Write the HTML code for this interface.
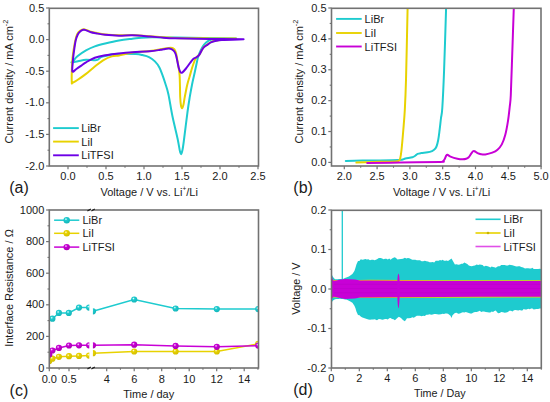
<!DOCTYPE html><html><head><meta charset="utf-8"><style>html,body{margin:0;padding:0;background:#fff;overflow:hidden;}svg{display:block;}text{font-family:"Liberation Sans", sans-serif;fill:#1a1a1a;}</style></head><body>
<svg width="550" height="402" viewBox="0 0 550 402">
<rect width="550" height="402" fill="#fff"/>
<defs>
<radialGradient id="gc" cx="0.38" cy="0.35" r="0.7"><stop offset="0" stop-color="#eaffff"/><stop offset="0.3" stop-color="#1ecbcf"/><stop offset="1" stop-color="#14b4b8"/></radialGradient>
<radialGradient id="gy" cx="0.38" cy="0.35" r="0.7"><stop offset="0" stop-color="#fffbe0"/><stop offset="0.3" stop-color="#e8d200"/><stop offset="1" stop-color="#d0bc00"/></radialGradient>
<radialGradient id="gm" cx="0.38" cy="0.35" r="0.7"><stop offset="0" stop-color="#ffe8ff"/><stop offset="0.3" stop-color="#c800d6"/><stop offset="1" stop-color="#a800b0"/></radialGradient>
<clipPath id="ca"><rect x="49.3" y="8.3" width="209.2" height="157.7"/></clipPath>
<clipPath id="cb"><rect x="331.5" y="8.3" width="209.5" height="157.7"/></clipPath>
<clipPath id="cc1"><rect x="49.3" y="210" width="40" height="158"/></clipPath>
<clipPath id="cc2"><rect x="92.9" y="210" width="165.6" height="158"/></clipPath>
<clipPath id="cd"><rect x="331.5" y="210.3" width="209.8" height="157.7"/></clipPath>
</defs>
<g clip-path="url(#ca)" fill="none" stroke-width="2" stroke-linejoin="round" stroke-linecap="round">
<path d="M236,38.6 C232.5,38.7 219.03,39.03 215,39.2 C210.97,39.37 212.98,39.27 211.8,39.6 C210.62,39.93 209.22,40.3 207.9,41.2 C206.58,42.1 205.07,43.55 203.9,45 C202.73,46.45 201.85,47.98 200.9,49.9 C199.95,51.82 198.93,54.15 198.2,56.5 C197.47,58.85 197.08,61.33 196.5,64 C195.92,66.67 195.42,69.22 194.7,72.5 C193.98,75.78 193.03,79.55 192.2,83.7 C191.37,87.85 190.48,92.68 189.7,97.4 C188.92,102.12 188.5,104.57 187.5,112 C186.5,119.43 184.55,135.62 183.7,142 C182.85,148.38 182.83,148.27 182.4,150.3 C181.97,152.33 181.53,154.15 181.1,154.2 C180.67,154.25 180.38,153.18 179.8,150.6 C179.22,148.02 178.83,144.47 177.6,138.7 C176.37,132.93 173.93,123.4 172.4,116 C170.87,108.6 169.57,99.67 168.4,94.3 C167.23,88.93 166.4,87.03 165.4,83.8 C164.4,80.57 163.4,77.63 162.4,74.9 C161.4,72.17 160.65,69.65 159.4,67.4 C158.15,65.15 156.63,63.12 154.9,61.4 C153.17,59.68 151.1,58.15 149,57.1 C146.9,56.05 144.5,55.6 142.3,55.1 C140.1,54.6 140.35,54.28 135.8,54.1 C131.25,53.92 119.52,53.8 115,54 C110.48,54.2 110.92,54.82 108.7,55.3 C106.48,55.78 103.57,56.15 101.7,56.9 C99.83,57.65 98.65,59.23 97.5,59.8 C96.35,60.37 96.72,60.32 94.8,60.3 C92.88,60.28 88.8,59.55 86,59.7 C83.2,59.85 80.37,60.75 78,61.2 C75.63,61.65 72.67,62.35 71.8,62.4 C70.93,62.45 71.87,62.52 72.8,61.5 C73.73,60.48 75.2,58.15 77.4,56.3 C79.6,54.45 83.1,52.05 86,50.4 C88.9,48.75 91.6,47.55 94.8,46.4 C98,45.25 101.17,44.48 105.2,43.5 C109.23,42.52 114.47,41.28 119,40.5 C123.53,39.72 127.85,39.32 132.4,38.8 C136.95,38.28 139.2,37.6 146.3,37.4 C153.4,37.2 160.05,37.4 175,37.6 C189.95,37.8 225.83,38.43 236,38.6" stroke="#1ecbcf"/>
<path d="M236,38.4 C233.63,38.63 225.07,39.43 221.8,39.8 C218.53,40.17 218.22,40.2 216.4,40.6 C214.58,41 212.4,41.53 210.9,42.2 C209.4,42.87 208.48,43.87 207.4,44.6 C206.32,45.33 205.27,45.78 204.4,46.6 C203.53,47.42 203,48.22 202.2,49.5 C201.4,50.78 200.63,52.92 199.6,54.3 C198.57,55.68 196.82,56.77 196,57.8 C195.18,58.83 195.33,58.88 194.7,60.5 C194.07,62.12 193.03,64.88 192.2,67.5 C191.37,70.12 190.53,73.3 189.7,76.2 C188.87,79.1 188.03,81.37 187.2,84.9 C186.37,88.43 185.32,94.13 184.7,97.4 C184.08,100.67 183.92,102.7 183.5,104.5 C183.08,106.3 182.63,108.12 182.2,108.2 C181.77,108.28 181.23,106.87 180.9,105 C180.57,103.13 180.42,101.97 180.2,97 C179.98,92.03 180,80.9 179.6,75.2 C179.2,69.5 178.4,66.5 177.8,62.8 C177.2,59.1 176.58,55.28 176,53 C175.42,50.72 175.15,49.98 174.3,49.1 C173.45,48.22 172.67,47.77 170.9,47.7 C169.13,47.63 167.22,48.15 163.7,48.7 C160.18,49.25 155.02,50.38 149.8,51 C144.58,51.62 136.47,51.9 132.4,52.4 C128.33,52.9 127.63,53.48 125.4,54 C123.17,54.52 121.27,55.1 119,55.5 C116.73,55.9 114.45,55.6 111.8,56.4 C109.15,57.2 105.93,58.62 103.1,60.3 C100.27,61.98 97.65,64.23 94.8,66.5 C91.95,68.77 88.9,71.65 86,73.9 C83.1,76.15 79.65,78.52 77.4,80 C75.15,81.48 73.43,82.37 72.5,82.8 C71.57,83.23 71.92,84.4 71.8,82.6 C71.68,80.8 71.68,76.1 71.8,72 C71.92,67.9 71.97,63 72.5,58 C73.03,53 74.22,45.97 75,42 C75.78,38.03 76.37,36.07 77.2,34.2 C78.03,32.33 78.9,31.63 80,30.8 C81.1,29.97 81.97,29.05 83.8,29.2 C85.63,29.35 88.97,31.1 91,31.7 C93.03,32.3 93.63,32.35 96,32.8 C98.37,33.25 101.37,33.98 105.2,34.4 C109.03,34.82 114.47,35.2 119,35.3 C123.53,35.4 127.27,34.85 132.4,35 C137.53,35.15 142.7,35.72 149.8,36.2 C156.9,36.68 164.97,37.53 175,37.9 C185.03,38.27 199.83,38.32 210,38.4 C220.17,38.48 231.67,38.4 236,38.4" stroke="#e8d200"/>
<path d="M243.6,39.3 C239.97,39.42 226.33,39.75 221.8,40 C217.27,40.25 218.22,40.4 216.4,40.8 C214.58,41.2 212.4,41.73 210.9,42.4 C209.4,43.07 208.48,44.07 207.4,44.8 C206.32,45.53 205.27,46.02 204.4,46.8 C203.53,47.58 203,48.25 202.2,49.5 C201.4,50.75 200.55,53 199.6,54.3 C198.65,55.6 197.52,56.57 196.5,57.3 C195.48,58.03 194.58,57.75 193.5,58.7 C192.42,59.65 191.25,61.37 190,63 C188.75,64.63 187.25,66.95 186,68.5 C184.75,70.05 183.42,71.67 182.5,72.3 C181.58,72.93 181.12,73.02 180.5,72.3 C179.88,71.58 179.33,69.88 178.8,68 C178.27,66.12 177.8,63.25 177.3,61 C176.8,58.75 176.43,56.25 175.8,54.5 C175.17,52.75 174.62,51.48 173.5,50.5 C172.38,49.52 170.73,48.82 169.1,48.6 C167.47,48.38 165.15,49 163.7,49.2 C162.25,49.4 162.72,49.45 160.4,49.8 C158.08,50.15 154.47,50.9 149.8,51.3 C145.13,51.7 137.53,51.85 132.4,52.2 C127.27,52.55 123.53,52.9 119,53.4 C114.47,53.9 109.23,54.47 105.2,55.2 C101.17,55.93 98,56.62 94.8,57.8 C91.6,58.98 88.32,60.95 86,62.3 C83.68,63.65 82.5,64.78 80.9,65.9 C79.3,67.02 77.82,68.07 76.4,69 C74.98,69.93 73,72.67 72.4,71.5 C71.8,70.33 72.62,64.78 72.8,62 C72.98,59.22 73.03,58.32 73.5,54.8 C73.97,51.28 74.88,44.28 75.6,40.9 C76.32,37.52 76.98,36.12 77.8,34.5 C78.62,32.88 79.43,31.98 80.5,31.2 C81.57,30.42 82.45,29.62 84.2,29.8 C85.95,29.98 89.03,31.72 91,32.3 C92.97,32.88 93.63,32.88 96,33.3 C98.37,33.72 101.37,34.4 105.2,34.8 C109.03,35.2 114.47,35.62 119,35.7 C123.53,35.78 127.27,35.17 132.4,35.3 C137.53,35.43 144.58,36.1 149.8,36.5 C155.02,36.9 159.5,37.4 163.7,37.7 C167.9,38 167.28,38.1 175,38.3 C182.72,38.5 198.57,38.73 210,38.9 C221.43,39.07 238,39.23 243.6,39.3" stroke="#6d00e6"/>
</g>
<rect x="49.3" y="8.3" width="209.2" height="157.7" fill="none" stroke="#727272" stroke-width="1.6"/>
<line x1="46.1" y1="8" x2="49.3" y2="8" stroke="#727272" stroke-width="1.2"/>
<line x1="46.1" y1="39.6" x2="49.3" y2="39.6" stroke="#727272" stroke-width="1.2"/>
<line x1="46.1" y1="71.2" x2="49.3" y2="71.2" stroke="#727272" stroke-width="1.2"/>
<line x1="46.1" y1="102.8" x2="49.3" y2="102.8" stroke="#727272" stroke-width="1.2"/>
<line x1="46.1" y1="134.4" x2="49.3" y2="134.4" stroke="#727272" stroke-width="1.2"/>
<line x1="46.1" y1="166" x2="49.3" y2="166" stroke="#727272" stroke-width="1.2"/>
<line x1="47.5" y1="23.8" x2="49.3" y2="23.8" stroke="#727272" stroke-width="1.1"/>
<line x1="47.5" y1="55.4" x2="49.3" y2="55.4" stroke="#727272" stroke-width="1.1"/>
<line x1="47.5" y1="87" x2="49.3" y2="87" stroke="#727272" stroke-width="1.1"/>
<line x1="47.5" y1="118.6" x2="49.3" y2="118.6" stroke="#727272" stroke-width="1.1"/>
<line x1="47.5" y1="150.2" x2="49.3" y2="150.2" stroke="#727272" stroke-width="1.1"/>
<text x="44.3" y="11.6" font-size="11" text-anchor="end" >0.5</text>
<text x="44.3" y="43.2" font-size="11" text-anchor="end" >0.0</text>
<text x="44.3" y="74.8" font-size="11" text-anchor="end" >-0.5</text>
<text x="44.3" y="106.4" font-size="11" text-anchor="end" >-1.0</text>
<text x="44.3" y="138" font-size="11" text-anchor="end" >-1.5</text>
<text x="44.3" y="169.6" font-size="11" text-anchor="end" >-2.0</text>
<line x1="68" y1="166" x2="68" y2="169.2" stroke="#727272" stroke-width="1.2"/>
<line x1="106" y1="166" x2="106" y2="169.2" stroke="#727272" stroke-width="1.2"/>
<line x1="144" y1="166" x2="144" y2="169.2" stroke="#727272" stroke-width="1.2"/>
<line x1="182" y1="166" x2="182" y2="169.2" stroke="#727272" stroke-width="1.2"/>
<line x1="220" y1="166" x2="220" y2="169.2" stroke="#727272" stroke-width="1.2"/>
<line x1="258" y1="166" x2="258" y2="169.2" stroke="#727272" stroke-width="1.2"/>
<line x1="87" y1="166" x2="87" y2="167.8" stroke="#727272" stroke-width="1.1"/>
<line x1="125" y1="166" x2="125" y2="167.8" stroke="#727272" stroke-width="1.1"/>
<line x1="163" y1="166" x2="163" y2="167.8" stroke="#727272" stroke-width="1.1"/>
<line x1="201" y1="166" x2="201" y2="167.8" stroke="#727272" stroke-width="1.1"/>
<line x1="239" y1="166" x2="239" y2="167.8" stroke="#727272" stroke-width="1.1"/>
<text x="68" y="180.2" font-size="11" text-anchor="middle" >0.0</text>
<text x="106" y="180.2" font-size="11" text-anchor="middle" >0.5</text>
<text x="144" y="180.2" font-size="11" text-anchor="middle" >1.0</text>
<text x="182" y="180.2" font-size="11" text-anchor="middle" >1.5</text>
<text x="220" y="180.2" font-size="11" text-anchor="middle" >2.0</text>
<text x="258" y="180.2" font-size="11" text-anchor="middle" >2.5</text>
<line x1="53.1" y1="128.1" x2="78.8" y2="128.1" stroke="#1ecbcf" stroke-width="1.9"/>
<text x="81.3" y="132.1" font-size="11" text-anchor="start" >LiBr</text>
<line x1="53.1" y1="141.6" x2="78.8" y2="141.6" stroke="#e8d200" stroke-width="1.9"/>
<text x="81.3" y="145.6" font-size="11" text-anchor="start" >LiI</text>
<line x1="53.1" y1="155.3" x2="78.8" y2="155.3" stroke="#6d00e6" stroke-width="1.9"/>
<text x="81.3" y="159.3" font-size="11" text-anchor="start" >LiTFSI</text>
<text transform="translate(13.2,143.5) rotate(-90)" font-size="11">Current density / mA cm<tspan font-size="7.2" dy="-5">-2</tspan></text>
<text x="100.5" y="195.5" font-size="11" text-anchor="start" >Voltage / V vs. Li<tspan font-size="6.5" dy="-5">+</tspan><tspan dy="5">/Li</tspan></text>
<text x="9.2" y="193.3" font-size="16" text-anchor="start" >(a)</text>
<g clip-path="url(#cb)" fill="none" stroke-width="2" stroke-linejoin="round" stroke-linecap="round">
<path d="M345.8,160.9 C349.83,160.83 361.2,160.63 370,160.5 C378.8,160.37 392.7,160.43 398.6,160.1 C404.5,159.77 403.1,158.98 405.4,158.5 C407.7,158.02 410.72,157.7 412.4,157.2 C414.08,156.7 414.63,156.05 415.5,155.5 C416.37,154.95 416.67,154.3 417.6,153.9 C418.53,153.5 419.07,153.43 421.1,153.1 C423.13,152.77 427.63,152.45 429.8,151.9 C431.97,151.35 432.98,150.7 434.1,149.8 C435.22,148.9 435.82,148.13 436.5,146.5 C437.18,144.87 437.68,142.75 438.2,140 C438.72,137.25 439.13,133.67 439.6,130 C440.07,126.33 440.55,121.67 441,118 C441.45,114.33 441.78,116 442.3,108 C442.82,100 443.47,86.67 444.1,70 C444.73,53.33 445.77,18.33 446.1,8" stroke="#1ecbcf"/>
<path d="M356.4,162.6 C358,162.55 362.07,162.43 366,162.3 C369.93,162.17 375,161.95 380,161.8 C385,161.65 392.9,161.55 396,161.4 C399.1,161.25 397.9,161.38 398.6,160.9 C399.3,160.42 399.72,160.32 400.2,158.5 C400.68,156.68 400.98,154.75 401.5,150 C402.02,145.25 402.75,136.67 403.3,130 C403.85,123.33 404.35,118.33 404.8,110 C405.25,101.67 405.53,97 406,80 C406.47,63 407.33,20 407.6,8" stroke="#e8d200"/>
<path d="M367.2,163 C372.67,162.93 387.87,162.78 400,162.6 C412.13,162.42 432.87,162.12 440,161.9 C447.13,161.68 442.03,161.75 442.8,161.3 C443.57,160.85 444.03,160.15 444.6,159.2 C445.17,158.25 445.72,156.33 446.2,155.6 C446.68,154.87 446.78,154.63 447.5,154.8 C448.22,154.97 448.85,155.95 450.5,156.6 C452.15,157.25 455.4,158.25 457.4,158.7 C459.4,159.15 461.03,159.28 462.5,159.3 C463.97,159.32 465.17,159.13 466.2,158.8 C467.23,158.47 467.87,158.17 468.7,157.3 C469.53,156.43 470.48,154.6 471.2,153.6 C471.92,152.6 472.43,151.7 473,151.3 C473.57,150.9 473.85,150.9 474.6,151.2 C475.35,151.5 476.43,152.6 477.5,153.1 C478.57,153.6 479.7,153.98 481,154.2 C482.3,154.42 483.42,154.67 485.3,154.4 C487.18,154.13 490.27,153.38 492.3,152.6 C494.33,151.82 495.92,151.07 497.5,149.7 C499.08,148.33 500.5,146.88 501.8,144.4 C503.1,141.92 504.27,138.72 505.3,134.8 C506.33,130.88 507.27,125.53 508,120.9 C508.73,116.27 509.23,111.32 509.7,107 C510.17,102.68 510.38,103.67 510.8,95 C511.22,86.33 511.7,69.5 512.2,55 C512.7,40.5 513.53,15.83 513.8,8" stroke="#c800d6"/>
</g>
<rect x="331.5" y="8.3" width="209.5" height="157.7" fill="none" stroke="#727272" stroke-width="1.6"/>
<line x1="328.3" y1="8" x2="331.5" y2="8" stroke="#727272" stroke-width="1.2"/>
<line x1="328.3" y1="38.88" x2="331.5" y2="38.88" stroke="#727272" stroke-width="1.2"/>
<line x1="328.3" y1="69.76" x2="331.5" y2="69.76" stroke="#727272" stroke-width="1.2"/>
<line x1="328.3" y1="100.64" x2="331.5" y2="100.64" stroke="#727272" stroke-width="1.2"/>
<line x1="328.3" y1="131.52" x2="331.5" y2="131.52" stroke="#727272" stroke-width="1.2"/>
<line x1="328.3" y1="162.4" x2="331.5" y2="162.4" stroke="#727272" stroke-width="1.2"/>
<line x1="329.7" y1="23.44" x2="331.5" y2="23.44" stroke="#727272" stroke-width="1.1"/>
<line x1="329.7" y1="54.32" x2="331.5" y2="54.32" stroke="#727272" stroke-width="1.1"/>
<line x1="329.7" y1="85.2" x2="331.5" y2="85.2" stroke="#727272" stroke-width="1.1"/>
<line x1="329.7" y1="116.08" x2="331.5" y2="116.08" stroke="#727272" stroke-width="1.1"/>
<line x1="329.7" y1="146.96" x2="331.5" y2="146.96" stroke="#727272" stroke-width="1.1"/>
<text x="326.5" y="11.6" font-size="11" text-anchor="end" >0.5</text>
<text x="326.5" y="42.48" font-size="11" text-anchor="end" >0.4</text>
<text x="326.5" y="73.36" font-size="11" text-anchor="end" >0.3</text>
<text x="326.5" y="104.24" font-size="11" text-anchor="end" >0.2</text>
<text x="326.5" y="135.12" font-size="11" text-anchor="end" >0.1</text>
<text x="326.5" y="166" font-size="11" text-anchor="end" >0.0</text>
<line x1="344.3" y1="166" x2="344.3" y2="169.2" stroke="#727272" stroke-width="1.2"/>
<line x1="377.1" y1="166" x2="377.1" y2="169.2" stroke="#727272" stroke-width="1.2"/>
<line x1="409.9" y1="166" x2="409.9" y2="169.2" stroke="#727272" stroke-width="1.2"/>
<line x1="442.7" y1="166" x2="442.7" y2="169.2" stroke="#727272" stroke-width="1.2"/>
<line x1="475.5" y1="166" x2="475.5" y2="169.2" stroke="#727272" stroke-width="1.2"/>
<line x1="508.3" y1="166" x2="508.3" y2="169.2" stroke="#727272" stroke-width="1.2"/>
<line x1="541.1" y1="166" x2="541.1" y2="169.2" stroke="#727272" stroke-width="1.2"/>
<line x1="360.7" y1="166" x2="360.7" y2="167.8" stroke="#727272" stroke-width="1.1"/>
<line x1="393.5" y1="166" x2="393.5" y2="167.8" stroke="#727272" stroke-width="1.1"/>
<line x1="426.3" y1="166" x2="426.3" y2="167.8" stroke="#727272" stroke-width="1.1"/>
<line x1="459.1" y1="166" x2="459.1" y2="167.8" stroke="#727272" stroke-width="1.1"/>
<line x1="491.9" y1="166" x2="491.9" y2="167.8" stroke="#727272" stroke-width="1.1"/>
<line x1="524.7" y1="166" x2="524.7" y2="167.8" stroke="#727272" stroke-width="1.1"/>
<text x="344.3" y="180.2" font-size="11" text-anchor="middle" >2.0</text>
<text x="377.1" y="180.2" font-size="11" text-anchor="middle" >2.5</text>
<text x="409.9" y="180.2" font-size="11" text-anchor="middle" >3.0</text>
<text x="442.7" y="180.2" font-size="11" text-anchor="middle" >3.5</text>
<text x="475.5" y="180.2" font-size="11" text-anchor="middle" >4.0</text>
<text x="508.3" y="180.2" font-size="11" text-anchor="middle" >4.5</text>
<text x="541.1" y="180.2" font-size="11" text-anchor="middle" >5.0</text>
<line x1="336.1" y1="18.9" x2="361.7" y2="18.9" stroke="#1ecbcf" stroke-width="1.9"/>
<text x="364.6" y="22.9" font-size="11" text-anchor="start" >LiBr</text>
<line x1="336.1" y1="33" x2="361.7" y2="33" stroke="#e8d200" stroke-width="1.9"/>
<text x="364.6" y="37" font-size="11" text-anchor="start" >LiI</text>
<line x1="336.1" y1="46.5" x2="361.7" y2="46.5" stroke="#c800d6" stroke-width="1.9"/>
<text x="364.6" y="50.5" font-size="11" text-anchor="start" >LiTFSI</text>
<text transform="translate(302.5,143.5) rotate(-90)" font-size="11">Current density / mA cm<tspan font-size="7.2" dy="-5">-2</tspan></text>
<text x="392.9" y="195.5" font-size="11" text-anchor="start" >Voltage / V vs. Li<tspan font-size="6.5" dy="-5">+</tspan><tspan dy="5">/Li</tspan></text>
<text x="293.3" y="193.3" font-size="16" text-anchor="start" >(b)</text>
<g clip-path="url(#cc1)">
<path d="M52.4,318.7 L58.9,312.9 L68.8,312.9 L79,307.6 L89.1,307.6" fill="none" stroke="#1ecbcf" stroke-width="1.5"/>
<circle cx="52.4" cy="318.7" r="3.1" fill="url(#gc)"/>
<circle cx="58.9" cy="312.9" r="3.1" fill="url(#gc)"/>
<circle cx="68.8" cy="312.9" r="3.1" fill="url(#gc)"/>
<circle cx="79" cy="307.6" r="3.1" fill="url(#gc)"/>
<circle cx="89.1" cy="307.6" r="3.1" fill="url(#gc)"/>
</g>
<g clip-path="url(#cc2)">
<path d="M92.95,311.3 L134.2,299.5 L175.6,308.5 L216.8,309.1 L258.2,309.1" fill="none" stroke="#1ecbcf" stroke-width="1.5"/>
<circle cx="92.95" cy="311.3" r="3.1" fill="url(#gc)"/>
<circle cx="134.2" cy="299.5" r="3.1" fill="url(#gc)"/>
<circle cx="175.6" cy="308.5" r="3.1" fill="url(#gc)"/>
<circle cx="216.8" cy="309.1" r="3.1" fill="url(#gc)"/>
<circle cx="258.2" cy="309.1" r="3.1" fill="url(#gc)"/>
</g>
<g clip-path="url(#cc1)">
<path d="M49.3,361.1 L52.4,358.7 L58.9,356.8 L69,356.2 L79,355.9 L89.1,355.6" fill="none" stroke="#e8d200" stroke-width="1.5"/>
<circle cx="49.3" cy="361.1" r="3.1" fill="url(#gy)"/>
<circle cx="52.4" cy="358.7" r="3.1" fill="url(#gy)"/>
<circle cx="58.9" cy="356.8" r="3.1" fill="url(#gy)"/>
<circle cx="69" cy="356.2" r="3.1" fill="url(#gy)"/>
<circle cx="79" cy="355.9" r="3.1" fill="url(#gy)"/>
<circle cx="89.1" cy="355.6" r="3.1" fill="url(#gy)"/>
</g>
<g clip-path="url(#cc2)">
<path d="M92.95,353.2 L134.2,351.5 L175.6,351.5 L216.8,351.5 L258.2,343.8" fill="none" stroke="#e8d200" stroke-width="1.5"/>
<circle cx="92.95" cy="353.2" r="3.1" fill="url(#gy)"/>
<circle cx="134.2" cy="351.5" r="3.1" fill="url(#gy)"/>
<circle cx="175.6" cy="351.5" r="3.1" fill="url(#gy)"/>
<circle cx="216.8" cy="351.5" r="3.1" fill="url(#gy)"/>
<circle cx="258.2" cy="343.8" r="3.1" fill="url(#gy)"/>
</g>
<g clip-path="url(#cc1)">
<path d="M49.3,354.6 L52.4,350.5 L58.9,347.9 L69,345.5 L79,345.3 L89.1,345.3" fill="none" stroke="#c800d6" stroke-width="1.5"/>
<circle cx="49.3" cy="354.6" r="3.1" fill="url(#gm)"/>
<circle cx="52.4" cy="350.5" r="3.1" fill="url(#gm)"/>
<circle cx="58.9" cy="347.9" r="3.1" fill="url(#gm)"/>
<circle cx="69" cy="345.5" r="3.1" fill="url(#gm)"/>
<circle cx="79" cy="345.3" r="3.1" fill="url(#gm)"/>
<circle cx="89.1" cy="345.3" r="3.1" fill="url(#gm)"/>
</g>
<g clip-path="url(#cc2)">
<path d="M92.95,345.3 L134.2,344.7 L175.6,345.9 L216.8,346.8 L258.2,345.6" fill="none" stroke="#c800d6" stroke-width="1.5"/>
<circle cx="92.95" cy="345.3" r="3.1" fill="url(#gm)"/>
<circle cx="134.2" cy="344.7" r="3.1" fill="url(#gm)"/>
<circle cx="175.6" cy="345.9" r="3.1" fill="url(#gm)"/>
<circle cx="216.8" cy="346.8" r="3.1" fill="url(#gm)"/>
<circle cx="258.2" cy="345.6" r="3.1" fill="url(#gm)"/>
</g>
<rect x="49.3" y="210" width="209.2" height="158" fill="none" stroke="#727272" stroke-width="1.6"/>
<path d="M90.2,211.2 L91.8,208.8 L92.6,208.8 L91.0,211.2 Z" fill="#fff"/>
<line x1="87.4" y1="211" x2="90.8" y2="209" stroke="#1a1a1a" stroke-width="1.1"/>
<line x1="91.4" y1="211" x2="94.8" y2="209" stroke="#1a1a1a" stroke-width="1.1"/>
<path d="M90.2,369.2 L91.8,366.8 L92.6,366.8 L91.0,369.2 Z" fill="#fff"/>
<line x1="87.4" y1="369" x2="90.8" y2="367" stroke="#1a1a1a" stroke-width="1.1"/>
<line x1="91.4" y1="369" x2="94.8" y2="367" stroke="#1a1a1a" stroke-width="1.1"/>
<line x1="46.1" y1="210" x2="49.3" y2="210" stroke="#727272" stroke-width="1.2"/>
<line x1="46.1" y1="241.6" x2="49.3" y2="241.6" stroke="#727272" stroke-width="1.2"/>
<line x1="46.1" y1="273.2" x2="49.3" y2="273.2" stroke="#727272" stroke-width="1.2"/>
<line x1="46.1" y1="304.8" x2="49.3" y2="304.8" stroke="#727272" stroke-width="1.2"/>
<line x1="46.1" y1="336.4" x2="49.3" y2="336.4" stroke="#727272" stroke-width="1.2"/>
<line x1="46.1" y1="368" x2="49.3" y2="368" stroke="#727272" stroke-width="1.2"/>
<line x1="47.5" y1="225.8" x2="49.3" y2="225.8" stroke="#727272" stroke-width="1.1"/>
<line x1="47.5" y1="257.4" x2="49.3" y2="257.4" stroke="#727272" stroke-width="1.1"/>
<line x1="47.5" y1="289" x2="49.3" y2="289" stroke="#727272" stroke-width="1.1"/>
<line x1="47.5" y1="320.6" x2="49.3" y2="320.6" stroke="#727272" stroke-width="1.1"/>
<line x1="47.5" y1="352.2" x2="49.3" y2="352.2" stroke="#727272" stroke-width="1.1"/>
<text x="44.3" y="213.6" font-size="11" text-anchor="end" >1000</text>
<text x="44.3" y="245.2" font-size="11" text-anchor="end" >800</text>
<text x="44.3" y="276.8" font-size="11" text-anchor="end" >600</text>
<text x="44.3" y="308.4" font-size="11" text-anchor="end" >400</text>
<text x="44.3" y="340" font-size="11" text-anchor="end" >200</text>
<text x="44.3" y="371.6" font-size="11" text-anchor="end" >0</text>
<line x1="49.3" y1="368" x2="49.3" y2="371.2" stroke="#727272" stroke-width="1.2"/>
<line x1="69" y1="368" x2="69" y2="371.2" stroke="#727272" stroke-width="1.2"/>
<line x1="59.15" y1="368" x2="59.15" y2="369.8" stroke="#727272" stroke-width="1.1"/>
<line x1="78.85" y1="368" x2="78.85" y2="369.8" stroke="#727272" stroke-width="1.1"/>
<text x="49.3" y="382.5" font-size="11" text-anchor="middle" >0.0</text>
<text x="69" y="382.5" font-size="11" text-anchor="middle" >0.5</text>
<line x1="106.7" y1="368" x2="106.7" y2="371.2" stroke="#727272" stroke-width="1.2"/>
<line x1="134.2" y1="368" x2="134.2" y2="371.2" stroke="#727272" stroke-width="1.2"/>
<line x1="161.7" y1="368" x2="161.7" y2="371.2" stroke="#727272" stroke-width="1.2"/>
<line x1="189.2" y1="368" x2="189.2" y2="371.2" stroke="#727272" stroke-width="1.2"/>
<line x1="216.7" y1="368" x2="216.7" y2="371.2" stroke="#727272" stroke-width="1.2"/>
<line x1="244.2" y1="368" x2="244.2" y2="371.2" stroke="#727272" stroke-width="1.2"/>
<line x1="120.45" y1="368" x2="120.45" y2="369.8" stroke="#727272" stroke-width="1.1"/>
<line x1="147.95" y1="368" x2="147.95" y2="369.8" stroke="#727272" stroke-width="1.1"/>
<line x1="175.45" y1="368" x2="175.45" y2="369.8" stroke="#727272" stroke-width="1.1"/>
<line x1="202.95" y1="368" x2="202.95" y2="369.8" stroke="#727272" stroke-width="1.1"/>
<line x1="230.45" y1="368" x2="230.45" y2="369.8" stroke="#727272" stroke-width="1.1"/>
<line x1="257.95" y1="368" x2="257.95" y2="369.8" stroke="#727272" stroke-width="1.1"/>
<text x="106.7" y="382.5" font-size="11" text-anchor="middle" >4</text>
<text x="134.2" y="382.5" font-size="11" text-anchor="middle" >6</text>
<text x="161.7" y="382.5" font-size="11" text-anchor="middle" >8</text>
<text x="189.2" y="382.5" font-size="11" text-anchor="middle" >10</text>
<text x="216.7" y="382.5" font-size="11" text-anchor="middle" >12</text>
<text x="244.2" y="382.5" font-size="11" text-anchor="middle" >14</text>
<line x1="54.1" y1="220.2" x2="79.3" y2="220.2" stroke="#1ecbcf" stroke-width="1.5"/>
<circle cx="66.7" cy="220.2" r="3.2" fill="url(#gc)"/>
<text x="82.5" y="224.2" font-size="11" text-anchor="start" >LiBr</text>
<line x1="54.1" y1="233.3" x2="79.3" y2="233.3" stroke="#e8d200" stroke-width="1.5"/>
<circle cx="66.7" cy="233.3" r="3.2" fill="url(#gy)"/>
<text x="82.5" y="237.3" font-size="11" text-anchor="start" >LiI</text>
<line x1="54.1" y1="247.1" x2="79.3" y2="247.1" stroke="#c800d6" stroke-width="1.5"/>
<circle cx="66.7" cy="247.1" r="3.2" fill="url(#gm)"/>
<text x="82.5" y="251.1" font-size="11" text-anchor="start" >LiTFSI</text>
<text transform="translate(13.2,346.8) rotate(-90)" font-size="11">Interface Resistance / &#937;</text>
<text x="123.3" y="398" font-size="11" text-anchor="start" >Time / day</text>
<text x="9.6" y="395.8" font-size="16" text-anchor="start" >(c)</text>
<g clip-path="url(#cd)">
<path d="M331.5,274 L333,277 L335,279.2 L336.33,279.17 L337.67,279.13 L339,279.1 L340.33,279.07 L341.67,279.03 L343,279 L344.9,278 L346.23,277.5 L347.57,277 L348.9,276.5 L350.65,275.25 L352.4,274 L354.4,271 L355.4,268 L356.5,264.25 L358,261.01 L359.4,260.91 L360.8,259.3 L362.3,259.85 L363.8,259.51 L365.3,258.98 L366.8,259.51 L368.4,259.25 L370,260.21 L371.57,259.7 L373.13,259.73 L374.7,260.19 L377,259.26 L378.85,258.02 L380.7,257.91 L382.13,258.58 L383.57,259.13 L385,258.71 L386.4,258.63 L387.8,259.62 L389.2,258.49 L390.6,259.8 L392.03,258.51 L393.47,257.8 L394.9,257.26 L396.23,258.2 L397.57,259.58 L398.9,259.35 L401,259.11 L402.95,258.69 L404.9,257.82 L406.38,258.39 L407.85,258.04 L409.32,258.36 L410.8,258.89 L412.3,259.78 L413.8,259.65 L415.3,259.71 L416.8,260.32 L418.4,260.33 L420,260.32 L421.6,261.15 L423.2,261.15 L424.8,260.64 L426.4,261.35 L428,261.54 L429.57,262.29 L431.13,262.35 L432.7,262 L434.2,262.52 L435.7,260.87 L437.2,260.84 L438.7,260.86 L440.02,260.01 L441.35,260.48 L442.68,259.85 L444,260.74 L445.33,260.84 L446.67,260.54 L448,260.93 L450.5,259.24 L451.5,258.57 L452.5,260.13 L454.9,264.61 L456.57,264.27 L458.23,264.64 L459.9,264.62 L461.38,263.69 L462.85,263.68 L464.32,262.56 L465.8,263.18 L467.3,264.01 L468.8,265.39 L470.3,266.05 L471.8,266.2 L473.4,265.74 L475,265.54 L476.6,264.5 L478.2,264.98 L479.8,264.44 L481.2,264.73 L482.6,265.02 L484,266.38 L485.85,265.83 L487.7,266.35 L489.03,266.65 L490.37,267.42 L491.7,266.41 L493.03,267.03 L494.37,267.27 L495.7,267.84 L498,266.35 L499.67,266.18 L501.33,265.12 L503,265.08 L504.63,264.9 L506.27,265.54 L507.9,265.54 L509.42,264.69 L510.95,265 L512.48,265.35 L514,265.63 L515.45,266.2 L516.9,266.57 L518.35,266.34 L519.8,266.21 L521.1,267.01 L522.4,267.17 L523.7,267.67 L525,268.43 L526.6,268.23 L528.2,268.16 L529.8,268.46 L531.1,268.6 L532.4,267.78 L533.7,269.01 L535,268.89 L536.58,269.12 L538.15,269.12 L539.72,268.65 L541.3,268.9 L541.3,308.6 L539.72,308.55 L538.15,309.11 L536.58,309.11 L535,309.25 L533.7,309.38 L532.4,308.59 L531.1,308.6 L529.8,309.29 L528.2,308.73 L526.6,309.43 L525,309.39 L523.7,309.04 L522.4,310.48 L521.1,310.42 L519.8,309.93 L518.35,310.41 L516.9,310.18 L515.45,309.93 L514,310.34 L512.48,311.5 L510.95,310.77 L509.42,310.83 L507.9,312.09 L506.27,312.42 L504.63,312.66 L503,312.19 L501.33,312.11 L499.67,313.1 L498,313.35 L495.7,310.54 L494.37,311.01 L493.03,311.9 L491.7,311.5 L490.37,312.58 L489.03,312.4 L487.7,312.25 L485.85,311.9 L484,311.43 L482.6,311.51 L481.2,312.05 L479.8,310.78 L478.2,311.42 L476.6,312.1 L475,312.02 L473.4,312.49 L471.8,313.43 L470.3,313.51 L468.8,313.02 L467.3,312.48 L465.8,311.99 L464.32,312.39 L462.85,312.16 L461.38,312.72 L459.9,313.39 L458.23,313.81 L456.57,312.83 L454.9,312.93 L452.5,315.34 L451.5,317.91 L450.5,315.66 L448,313.86 L446.67,313.54 L445.33,313.44 L444,313.98 L442.5,313.76 L441,314.15 L438.7,314.57 L437.2,314.31 L435.7,313.92 L434.2,313.96 L432.7,314.59 L431.13,314.64 L429.57,314.21 L428,314.75 L426.4,314.77 L424.8,315.97 L423.2,315.85 L421.6,316.17 L420,315.73 L418.4,315.74 L416.8,315.83 L415.3,316.74 L413.8,317.71 L412.3,317.26 L410.8,318.09 L408.9,318.26 L407,318.37 L404.9,321.27 L402.95,320.02 L401,318.04 L398.9,316.83 L397.57,317.75 L396.23,319.12 L394.9,320.18 L393.47,319.36 L392.03,319.11 L390.6,318.11 L389.2,318.34 L387.8,319.38 L386.4,319.07 L385,319.11 L383.57,319.45 L382.13,319.79 L380.7,319.34 L378.85,319.03 L377,320.26 L374.7,319.19 L373.13,319.56 L371.57,319.49 L370,319.7 L368.4,319.53 L366.8,319.02 L365.35,318.62 L363.9,317.91 L362.45,317.46 L361,316.81 L359.5,315.16 L358,315.06 L356.5,311.64 L355.4,308 L354.4,305.8 L352.4,302.8 L349.9,301.3 L348.4,300.55 L346.9,299.8 L344.95,299.4 L343,299 L341.5,298.9 L340,298.8 L338.33,298.93 L336.67,299.07 L335,299.2 L333,300.5 L331.5,302.5 Z" fill="#1ecbcf"/>
<line x1="342.3" y1="205" x2="342.3" y2="282" stroke="#1ecbcf" stroke-width="1.3"/>
<path d="M331.5,279.8 L336,280 L345,280 L358,279.9 L370,279.8 L440,280.2 L541.3,280.3 L541.3,297.4 L440,297.7 L370,298.1 L358,297.8 L336,297.5 L331.5,297.4 Z" fill="#e8d200"/>
<path d="M331.5,272.5 L332.4,278.5 L333.5,280.8 L336,280.6 L341,279.6 L345,279 L355,279.5 L360,280.4 L370,280.5 L400,280.7 L440,281 L480,281.1 L541.3,281.1 L541.3,296.7 L480,296.8 L440,297 L400,297.3 L370,297.5 L360,297.4 L355,298.6 L345,299 L341,298.3 L336,297.1 L333.5,296.8 L332.4,298 L331.5,299.5 Z" fill="#c800d6"/>
<line x1="334" y1="284.3" x2="541.3" y2="284.3" stroke="#b000c0" stroke-width="0.8" opacity="0.45"/>
<line x1="334" y1="288.6" x2="541.3" y2="288.6" stroke="#b000c0" stroke-width="0.8" opacity="0.45"/>
<line x1="334" y1="292.8" x2="541.3" y2="292.8" stroke="#b000c0" stroke-width="0.8" opacity="0.45"/>
<path d="M398.5,273.6 C399.5,275 399.5,279 399.6,281 L399.6,297 C399.5,300 399.3,306 398.5,308.6 C397.7,306 397.5,300 397.4,297 L397.4,281 C397.5,279 397.5,275 398.5,273.6 Z" fill="#c800d6"/>
</g>
<rect x="331.5" y="210.3" width="209.8" height="157.7" fill="none" stroke="#727272" stroke-width="1.6"/>
<line x1="328.3" y1="210" x2="331.5" y2="210" stroke="#727272" stroke-width="1.2"/>
<line x1="328.3" y1="249.5" x2="331.5" y2="249.5" stroke="#727272" stroke-width="1.2"/>
<line x1="328.3" y1="289" x2="331.5" y2="289" stroke="#727272" stroke-width="1.2"/>
<line x1="328.3" y1="328.5" x2="331.5" y2="328.5" stroke="#727272" stroke-width="1.2"/>
<line x1="328.3" y1="368" x2="331.5" y2="368" stroke="#727272" stroke-width="1.2"/>
<line x1="329.7" y1="229.75" x2="331.5" y2="229.75" stroke="#727272" stroke-width="1.1"/>
<line x1="329.7" y1="269.25" x2="331.5" y2="269.25" stroke="#727272" stroke-width="1.1"/>
<line x1="329.7" y1="308.75" x2="331.5" y2="308.75" stroke="#727272" stroke-width="1.1"/>
<line x1="329.7" y1="348.25" x2="331.5" y2="348.25" stroke="#727272" stroke-width="1.1"/>
<text x="326.3" y="213.6" font-size="11" text-anchor="end" >0.2</text>
<text x="326.3" y="253.1" font-size="11" text-anchor="end" >0.1</text>
<text x="326.3" y="292.6" font-size="11" text-anchor="end" >0.0</text>
<text x="326.3" y="332.1" font-size="11" text-anchor="end" >-0.1</text>
<text x="326.3" y="371.6" font-size="11" text-anchor="end" >-0.2</text>
<line x1="331.3" y1="368" x2="331.3" y2="371.2" stroke="#727272" stroke-width="1.2"/>
<line x1="359.3" y1="368" x2="359.3" y2="371.2" stroke="#727272" stroke-width="1.2"/>
<line x1="387.3" y1="368" x2="387.3" y2="371.2" stroke="#727272" stroke-width="1.2"/>
<line x1="415.3" y1="368" x2="415.3" y2="371.2" stroke="#727272" stroke-width="1.2"/>
<line x1="443.3" y1="368" x2="443.3" y2="371.2" stroke="#727272" stroke-width="1.2"/>
<line x1="471.3" y1="368" x2="471.3" y2="371.2" stroke="#727272" stroke-width="1.2"/>
<line x1="499.3" y1="368" x2="499.3" y2="371.2" stroke="#727272" stroke-width="1.2"/>
<line x1="527.3" y1="368" x2="527.3" y2="371.2" stroke="#727272" stroke-width="1.2"/>
<line x1="345.3" y1="368" x2="345.3" y2="369.8" stroke="#727272" stroke-width="1.1"/>
<line x1="373.3" y1="368" x2="373.3" y2="369.8" stroke="#727272" stroke-width="1.1"/>
<line x1="401.3" y1="368" x2="401.3" y2="369.8" stroke="#727272" stroke-width="1.1"/>
<line x1="429.3" y1="368" x2="429.3" y2="369.8" stroke="#727272" stroke-width="1.1"/>
<line x1="457.3" y1="368" x2="457.3" y2="369.8" stroke="#727272" stroke-width="1.1"/>
<line x1="485.3" y1="368" x2="485.3" y2="369.8" stroke="#727272" stroke-width="1.1"/>
<line x1="513.3" y1="368" x2="513.3" y2="369.8" stroke="#727272" stroke-width="1.1"/>
<line x1="541.3" y1="368" x2="541.3" y2="369.8" stroke="#727272" stroke-width="1.1"/>
<text x="331.3" y="381.8" font-size="11" text-anchor="middle" >0</text>
<text x="359.3" y="381.8" font-size="11" text-anchor="middle" >2</text>
<text x="387.3" y="381.8" font-size="11" text-anchor="middle" >4</text>
<text x="415.3" y="381.8" font-size="11" text-anchor="middle" >6</text>
<text x="443.3" y="381.8" font-size="11" text-anchor="middle" >8</text>
<text x="471.3" y="381.8" font-size="11" text-anchor="middle" >10</text>
<text x="499.3" y="381.8" font-size="11" text-anchor="middle" >12</text>
<text x="527.3" y="381.8" font-size="11" text-anchor="middle" >14</text>
<line x1="475.5" y1="219.3" x2="500.6" y2="219.3" stroke="#1ecbcf" stroke-width="1.6"/>
<text x="503.5" y="223.3" font-size="11" text-anchor="start" >LiBr</text>
<line x1="475.5" y1="233" x2="500.6" y2="233" stroke="#e8d200" stroke-width="1.6"/>
<circle cx="488" cy="233" r="1.3" fill="#c8b400"/>
<text x="503.5" y="237" font-size="11" text-anchor="start" >LiI</text>
<line x1="475.5" y1="246.5" x2="500.6" y2="246.5" stroke="#e050e8" stroke-width="1.6"/>
<text x="503.5" y="250.5" font-size="11" text-anchor="start" >LiTFSI</text>
<text transform="translate(299.6,314.8) rotate(-90)" font-size="10.8">Voltage / V</text>
<text x="414" y="396.5" font-size="10.75" text-anchor="start" >Time / Day</text>
<text x="293.2" y="394.9" font-size="16" text-anchor="start" >(d)</text>
</svg></body></html>
